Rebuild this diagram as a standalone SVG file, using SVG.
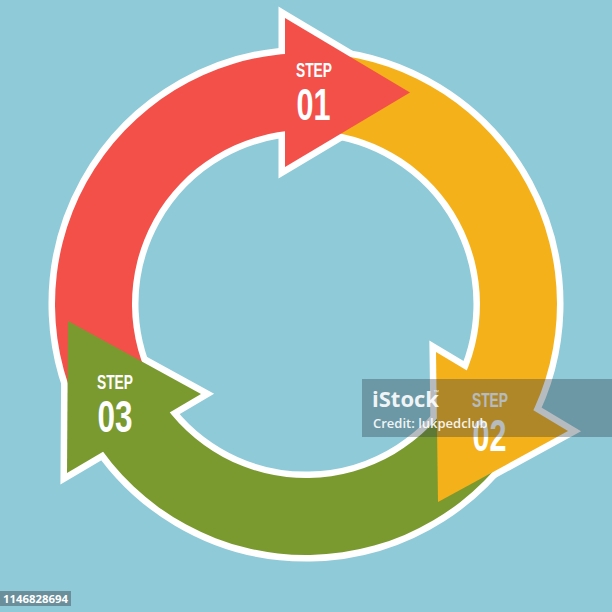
<svg xmlns="http://www.w3.org/2000/svg" width="612" height="612" viewBox="0 0 612 612">
<style>
.out{fill:#ffffff;stroke:#ffffff;stroke-width:13;stroke-linejoin:miter}
.red{fill:#f3504a}
.yel{fill:#f5b11a}
.grn{fill:#7a9a2f}
.lbl{font-family:"Liberation Sans Narrow","Liberation Sans",Arial,sans-serif;font-weight:bold;fill:#ffffff;text-anchor:middle}
.s{font-size:21px}
.n{font-size:44px}
</style>
<defs>
<path id="shR" d="M 88.6 429.5 A 251 251 0 0 1 297.2 53.2 L 299.9 130.1 A 174 174 0 0 0 155.3 391 Z"/>
<path id="shY" d="M 327.9 53.9 A 251 251 0 0 1 527.6 421.8 L 459.6 385.7 A 174 174 0 0 0 321.2 130.7 Z"/>
<path id="shG" d="M 523.4 429.5 A 251 251 0 0 1 93.1 437 L 158.4 396.2 A 174 174 0 0 0 456.7 391 Z"/>
<polygon id="hdR" points="285,18 410,92.5 285,167"/>
<polygon id="hdY" points="436,352 568,431 438,502"/>
<polygon id="hdG" points="68,321 201,394 67,473"/>
</defs>
<rect width="612" height="612" fill="#8fcad8"/>
<g id="outline" class="out">
<use href="#shR"/><use href="#shY"/><use href="#shG"/>
<use href="#hdR"/><use href="#hdY"/><use href="#hdG"/>
</g>
<g id="connectors">
<use href="#shR" class="red"/>
<use href="#shY" class="yel"/>
<use href="#shG" class="grn"/>
</g>
<g id="step01">
<use href="#hdR" class="red"/>
<text class="lbl s" x="314" y="77" textLength="36" lengthAdjust="spacingAndGlyphs">STEP</text>
<text class="lbl n" x="313.5" y="120" textLength="34" lengthAdjust="spacingAndGlyphs">01</text>
</g>
<g id="step02">
<use href="#hdY" class="yel"/>
<text class="lbl s" x="490" y="407" textLength="36" lengthAdjust="spacingAndGlyphs">STEP</text>
<text class="lbl n" x="489.5" y="451" textLength="34" lengthAdjust="spacingAndGlyphs">02</text>
</g>
<g id="step03">
<use href="#hdG" class="grn"/>
<text class="lbl s" x="115" y="389" textLength="36" lengthAdjust="spacingAndGlyphs">STEP</text>
<text class="lbl n" x="115" y="432" textLength="35" lengthAdjust="spacingAndGlyphs">03</text>
</g>
<g id="watermark">
<rect x="362" y="379" width="250" height="58" fill="#2a3944" opacity="0.34"/>
<text x="372" y="407" font-family="'Open Sans','Liberation Sans',sans-serif" font-weight="bold" font-size="22" fill="#ffffff" opacity="0.9">iStock</text>
<text x="433" y="394" font-family="'Liberation Sans',sans-serif" font-size="6" fill="#ffffff" opacity="0.8">™</text>
<text x="373" y="428" font-family="'Open Sans','Liberation Sans',sans-serif" font-weight="600" font-size="13" fill="#ffffff" opacity="0.9">Credit: lukpedclub</text>
<rect x="0" y="591" width="71" height="15" fill="#5d7a86" opacity="0.75"/>
<text x="3" y="603" font-family="'Open Sans','Liberation Sans',sans-serif" font-weight="bold" font-size="11" fill="#ffffff" textLength="65" lengthAdjust="spacingAndGlyphs">1146828694</text>
</g>
</svg>
